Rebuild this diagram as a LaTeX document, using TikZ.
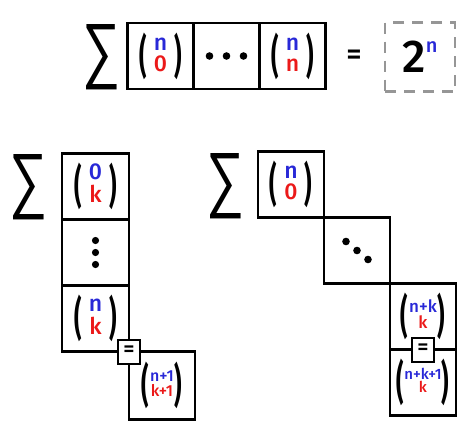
\documentclass[tikz,border=0pt]{standalone}
\usepackage{graphicx}
\usepackage{fontspec}
\newfontfamily\hand{Fira Sans Medium}
\newfontfamily\parf{Fira Sans}
\newfontfamily\symb{Liberation Sans}
\usetikzlibrary{positioning}

\definecolor{hblue}{RGB}{40,40,215}
\definecolor{hred}{RGB}{235,25,25}
\definecolor{hgray}{RGB}{150,150,150}

% tall parentheses and binomial in a cell: size, gap, top, bottom
\newcommand{\lpar}{\scalebox{1}[2.0]{\parf\bfseries\fontsize{23}{23}\selectfont(}}
\newcommand{\rpar}{\scalebox{1}[2.0]{\parf\bfseries\fontsize{23}{23}\selectfont)}}
\newcommand{\binc}[4]{\hand\fontsize{#1}{#1}\selectfont
  $\vcenter{\hbox{\lpar}}\hspace{#2}%
  \vcenter{\hbox{\begin{tabular}{@{}c@{}}\textcolor{hblue}{#3}\\[-2pt]\textcolor{hred}{#4}\end{tabular}}}%
  \hspace{#2}\vcenter{\hbox{\rpar}}$}
\newcommand{\bigsum}{\resizebox{38pt}{50pt}{\symb ∑}}

\tikzset{
  cell/.style={draw, line width=2.4pt, minimum width=66pt, minimum height=66pt,
    inner sep=0pt, outer sep=0pt},
  eqbox/.style={draw, fill=white, line width=2pt, minimum width=22pt,
    minimum height=24pt, inner sep=0pt, font=\hand\fontsize{22}{22}\selectfont},
  hdots/.style={path picture={
    \foreach \i in {-1,0,1}
      \fill ([xshift=\i*17pt]path picture bounding box.center) circle (3.8pt);}},
  vdots/.style={path picture={
    \foreach \i in {-1,0,1}
      \fill ([yshift=\i*12pt]path picture bounding box.center) circle (3.6pt);}},
  ddots/.style={path picture={
    \foreach \i in {-1,0,1}
      \fill ([xshift=\i*11pt,yshift=-\i*9pt]path picture bounding box.center) circle (3.8pt);}},
}

\begin{document}
\begin{tikzpicture}[x=1pt,y=-1pt]
    \useasboundingbox (0,0) rectangle (474,434);

    % top row
    \node[inner sep=0pt] (s0) at (101,57) {\bigsum};
    \node[cell] (t1) at (160.5,56) {\binc{23}{7pt}{n}{0}};
    \node[cell, hdots] (t2) [right = 0pt,at=(t1.east)] {};
    \node[cell] (t3) [right = 0pt,at=(t2.east)] {\binc{23}{7pt}{n}{n}};
    \node[font=\hand\fontsize{30}{30}\selectfont] (eq) at (354,57) {=};
    \node[draw=hgray, line width=2.4pt, dash pattern=on 11pt off 8pt,
      minimum width=70pt, minimum height=69pt] (pow) at (420,57)
      {\hand\fontsize{46}{46}\selectfont 2\raisebox{20pt}{\fontsize{20}{20}\selectfont\textcolor{hblue}{n}}};

    % left column
    \node[inner sep=0pt] (s1) at (28,187) {\bigsum};
    \node[cell, minimum width=67pt] (l1) at (95.5,186.5) {\binc{23}{7pt}{0}{k}};
    \node[cell, minimum width=67pt, vdots] (l2) [below = 0pt,at=(l1.south)] {};
    \node[cell, minimum width=67pt] (l3) [below = 0pt,at=(l2.south)] {\binc{23}{7pt}{n}{k}};
    \node[cell, minimum height=68pt] (l4) [below right = 0pt,at=(l3.south east)]
      {\binc{16}{1pt}{n+1}{k+1}};
    \node[eqbox] (le) at (l3.south east) {=};

    % right staircase
    \node[inner sep=0pt] (s2) at (225,186) {\bigsum};
    \node[cell] (r1) at (291,184.5) {\binc{23}{7pt}{n}{0}};
    \node[cell, ddots] (r2) [below right = 0pt,at=(r1.south east)] {};
    \node[cell] (r3) [below right = 0pt,at=(r2.south east)]
      {\raisebox{3pt}{\binc{17}{1pt}{n+k}{k}}};
    \node[cell] (r4) [below = 0pt,at=(r3.south)]
      {\raisebox{-3pt}{\binc{15}{0pt}{n+k+1}{k}}};
    \node[eqbox] (re) at (r3.south) {=};
\end{tikzpicture}
\end{document}
